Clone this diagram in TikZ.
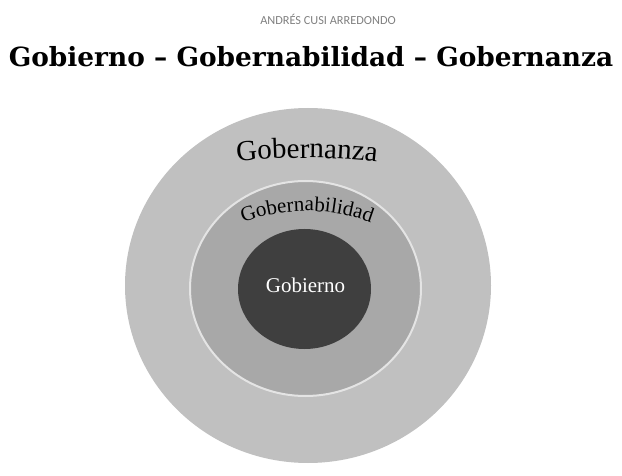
\documentclass[tikz,border=0pt]{standalone}
\usepackage{xcolor}
\usepackage{fontspec}
\usepackage{tikz}
\usetikzlibrary{shapes.geometric,decorations.text}
\setmainfont{Liberation Serif}
\newfontfamily\headfont{Carlito}
\newfontfamily\titlefont{DejaVu Serif}
\definecolor{outergray}{RGB}{192,192,192}
\definecolor{midgray}{RGB}{168,168,168}
\definecolor{innergray}{RGB}{63,63,63}
\definecolor{rimgray}{RGB}{228,228,228}

\begin{document}
\begin{tikzpicture}[x=1pt,y=-1pt,
    ring/.style={shape=ellipse, inner sep=0pt, draw=none},
    arclabel/.style={decorate, decoration={text along path, text align=center, text={#1}}}]
    \useasboundingbox (0,0) rectangle (622,476);

    \node[anchor=base, font=\headfont\fontsize{12.3}{14}\selectfont, text=gray] (author) at (328,25) {ANDRÉS CUSI ARREDONDO};
    \node[anchor=base, font=\titlefont\bfseries\fontsize{26.4}{30}\selectfont] (title) at (311,67) {Gobierno – Gobernabilidad – Gobernanza};

    \node[ring, fill=outergray, minimum width=366, minimum height=355] (gobernanza) at (308,285.5) {};
    \node[ring, fill=midgray, draw=rimgray, line width=2pt, minimum width=231, minimum height=215] (gobernabilidad) at (305.5,288.5) {};
    \node[ring, fill=innergray, minimum width=133, minimum height=120] (gobierno) at (304.5,289) {};

    \node[anchor=base, font=\fontsize{21}{24}\selectfont, text=white] (gobiernotxt) at (305.5,293) {Gobierno};

    % labels bent along the rings
    \path[arclabel={|\fontsize{29}{32}\selectfont|Gobernanza}] (307,788) ++(-100:630) arc[start angle=-100, end angle=-80, radius=630];
    \path[arclabel={|\fontsize{21}{24}\selectfont|Gobernabilidad}] (307,393) ++(-125:182) arc[start angle=-125, end angle=-55, radius=182];
  \end{tikzpicture}
\end{document}
